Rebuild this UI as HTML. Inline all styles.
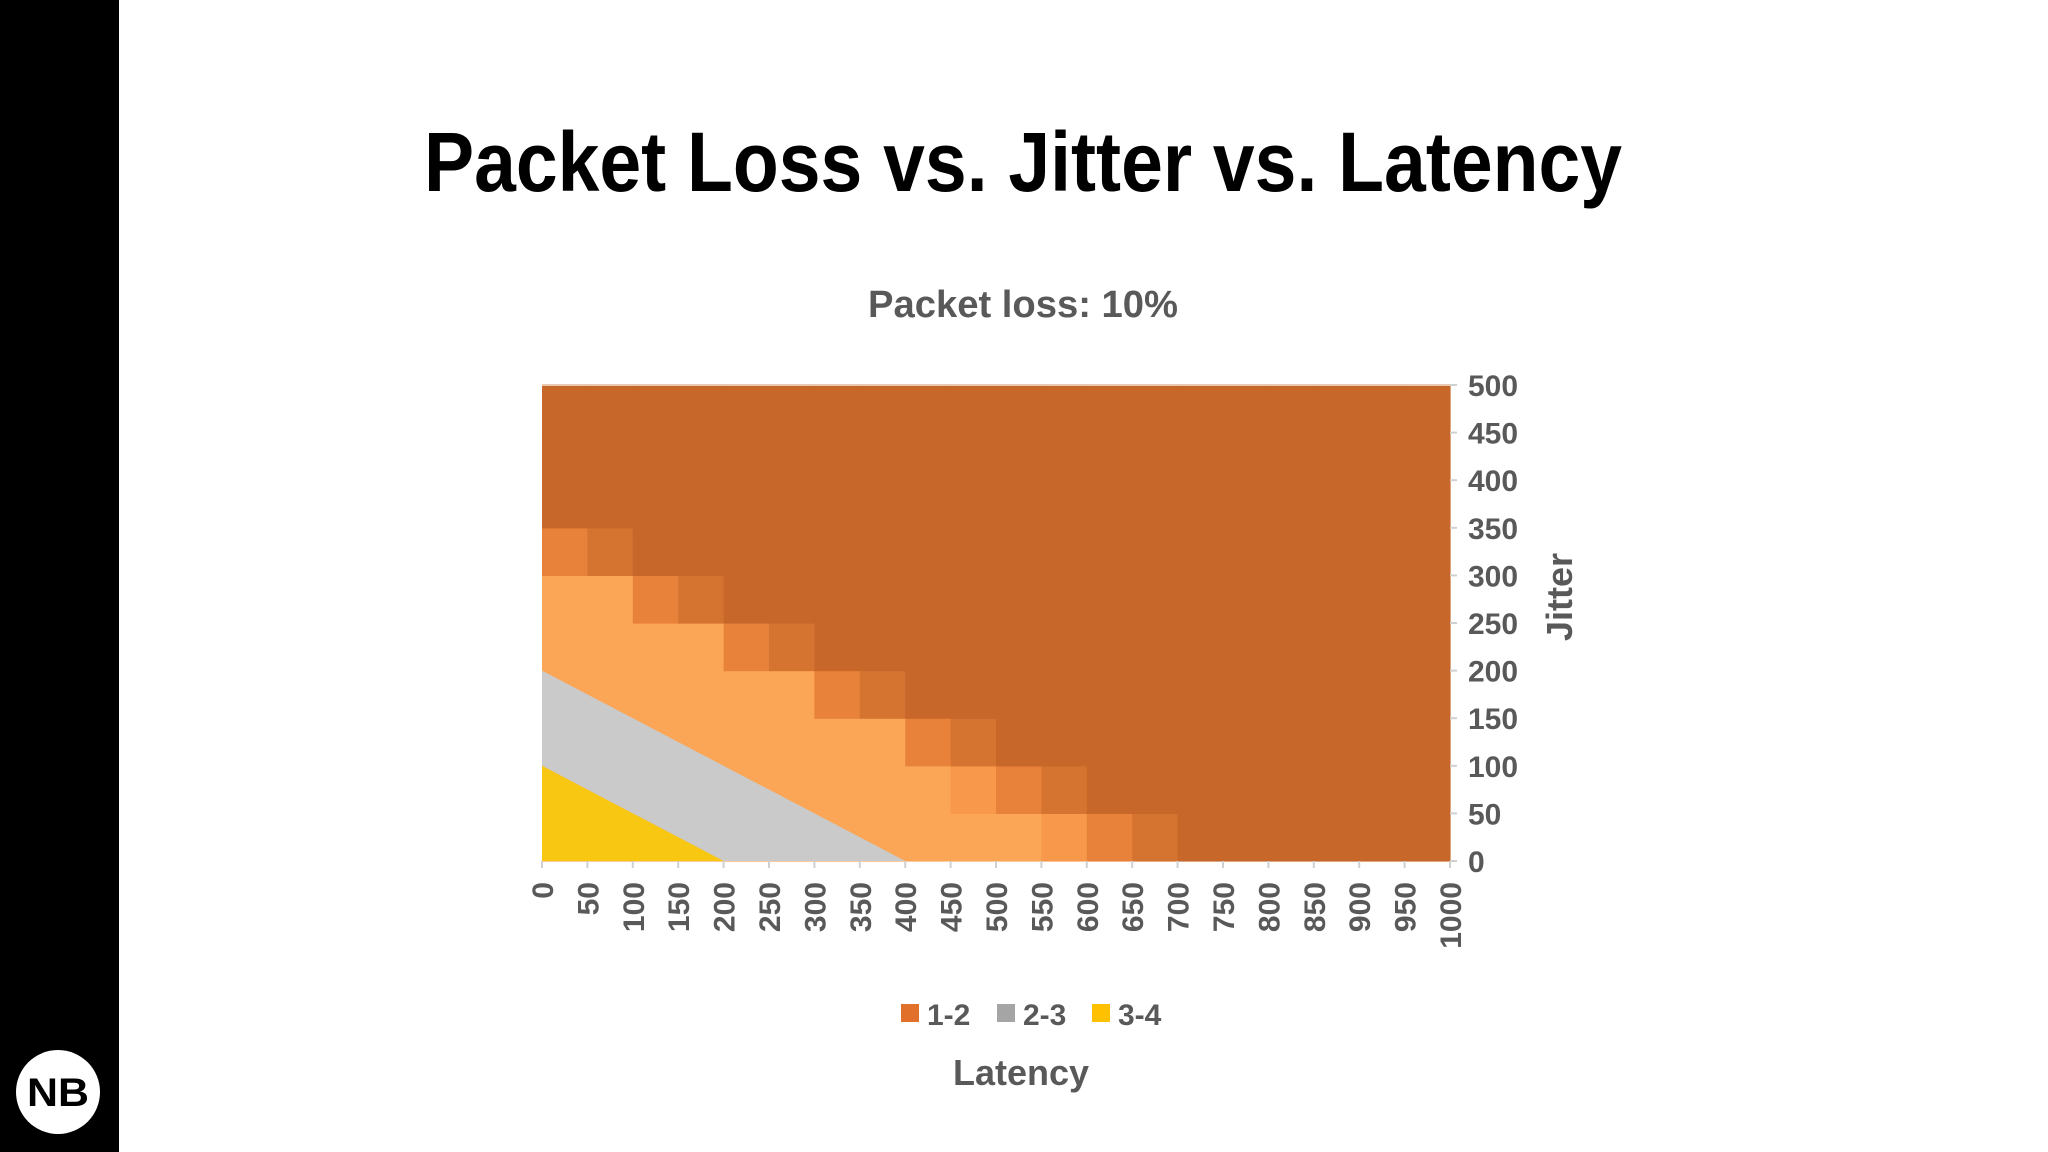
<!DOCTYPE html>
<html><head><meta charset="utf-8"><style>
html,body{margin:0;padding:0;background:#fff;}
svg{display:block;font-family:"Liberation Sans",sans-serif;}
</style></head><body>
<svg id="s" width="2048" height="1152" viewBox="0 0 2048 1152" xmlns="http://www.w3.org/2000/svg">
<rect x="0" y="0" width="119" height="1152" fill="#000"/>
<g>
<circle cx="58" cy="1092" r="42" fill="#fff"/>
<text x="58" y="1106" text-anchor="middle" font-size="40" font-weight="bold" fill="#000" textLength="62" lengthAdjust="spacingAndGlyphs">NB</text>
</g>
<text x="1023" y="191" text-anchor="middle" font-size="84" font-weight="bold" fill="#000" textLength="1198" lengthAdjust="spacingAndGlyphs">Packet Loss vs. Jitter vs. Latency</text>
<text x="1023" y="317" text-anchor="middle" font-size="38" font-weight="bold" fill="#595959" textLength="310" lengthAdjust="spacingAndGlyphs">Packet loss: 10%</text>
<g id="plot"></g>
<g id="axes"></g>
<text transform="translate(1572,597) rotate(-90)" text-anchor="middle" font-size="36" font-weight="bold" fill="#595959">Jitter</text>
<text x="1021" y="1085" text-anchor="middle" font-size="36" font-weight="bold" fill="#595959">Latency</text>
<g>
<g><rect x="901" y="1004" width="18" height="18" fill="#E0702A"/><text x="927" y="1025" font-size="30" font-weight="bold" fill="#595959">1-2</text></g>
<g><rect x="997" y="1004" width="18" height="18" fill="#A5A5A5"/><text x="1023" y="1025" font-size="30" font-weight="bold" fill="#595959">2-3</text></g>
<g><rect x="1092" y="1004" width="18" height="18" fill="#FFC000"/><text x="1118" y="1025" font-size="30" font-weight="bold" fill="#595959">3-4</text></g>
</g>
</svg>
<script>
const latencyTicks=[0,50,100,150,200,250,300,350,400,450,500,550,600,650,700,750,800,850,900,950,1000];
const jitterTicks=[0,50,100,150,200,250,300,350,400,450,500];
// shade level per cell (rows: jitter 0-50 upward; cols: latency 0-50 ...)
const shadeRow0=[4,4,4,4,4,4,4,4,4,4,4,3,2,1,0,0,0,0,0,0];
const shadeRow1=[4,4,4,4,4,4,4,4,4,3,2,1,0,0,0,0,0,0,0,0];
const shadeRow2=[4,4,4,4,4,4,4,4,2,1,0,0,0,0,0,0,0,0,0,0];
const shadeRow3=[4,4,4,4,4,4,2,1,0,0,0,0,0,0,0,0,0,0,0,0];
const shadeRow4=[4,4,4,4,2,1,0,0,0,0,0,0,0,0,0,0,0,0,0,0];
const shadeRow5=[4,4,2,1,0,0,0,0,0,0,0,0,0,0,0,0,0,0,0,0];
const shadeRow6=[2,1,0,0,0,0,0,0,0,0,0,0,0,0,0,0,0,0,0,0];
const shadeRow7=[0,0,0,0,0,0,0,0,0,0,0,0,0,0,0,0,0,0,0,0];
const shadeRow8=[0,0,0,0,0,0,0,0,0,0,0,0,0,0,0,0,0,0,0,0];
const shadeRow9=[0,0,0,0,0,0,0,0,0,0,0,0,0,0,0,0,0,0,0,0];
const grayZoneLatency=[0,0,400,200];
const grayZoneJitter=[100,200,0,0];
const yellowZoneLatency=[0,0,200];
const yellowZoneJitter=[0,100,0];
const shadeColors=["#C8672A","#D57330","#E8823A","#F7984A","#FBA656"];
const NS="http://www.w3.org/2000/svg";
const PL=542,PR=1450,PT=385,PB=861;
const xs=v=>PL+(v-0)/1000*(PR-PL);
const ys=v=>PB-(v-0)/500*(PB-PT);
const plotG=document.getElementById('plot');
const axesG=document.getElementById('axes');
const rows=[shadeRow0,shadeRow1,shadeRow2,shadeRow3,shadeRow4,shadeRow5,shadeRow6,shadeRow7,shadeRow8,shadeRow9];
rows.forEach((row,j)=>{row.forEach((s,i)=>{
 const r=document.createElementNS(NS,'rect');
 const x0=xs(latencyTicks[i]),x1=xs(latencyTicks[i+1]),y0=ys(jitterTicks[j+1]),y1=ys(jitterTicks[j]);
 r.setAttribute('x',x0);r.setAttribute('y',y0);r.setAttribute('width',x1-x0+0.6);r.setAttribute('height',y1-y0+0.6);
 r.setAttribute('fill',shadeColors[s]);
 
 
 plotG.appendChild(r);
});});
function poly(lx,jy,fill,name){
 const p=document.createElementNS(NS,'polygon');
 p.setAttribute('points',lx.map((v,k)=>xs(v)+','+ys(jy[k])).join(' '));
 p.setAttribute('fill',fill);
 
 
 plotG.appendChild(p);
}
poly(grayZoneLatency,grayZoneJitter,'#CACACA','zone-2-3');
poly(yellowZoneLatency,yellowZoneJitter,'#F7C712','zone-3-4');
const topLine=document.createElementNS(NS,'line');
topLine.setAttribute('x1',PL);topLine.setAttribute('x2',PR);topLine.setAttribute('y1',PT);topLine.setAttribute('y2',PT);
topLine.setAttribute('stroke','#E8C8B0');topLine.setAttribute('stroke-width','2');


plotG.appendChild(topLine);
latencyTicks.forEach(v=>{
 const tk=document.createElementNS(NS,'line');
 tk.setAttribute('x1',xs(v));tk.setAttribute('x2',xs(v));tk.setAttribute('y1',PB);tk.setAttribute('y2',PB+7);
 tk.setAttribute('stroke','#D0D0D0');tk.setAttribute('stroke-width','2');
 
 
 axesG.appendChild(tk);
 const t=document.createElementNS(NS,'text');
 t.setAttribute('transform','translate('+(xs(v)+11)+',882) rotate(-90)');
 t.setAttribute('text-anchor','end');t.setAttribute('font-size','30');t.setAttribute('font-weight','bold');t.setAttribute('fill','#595959');
 t.textContent=v;
 
 
 axesG.appendChild(t);
});
jitterTicks.forEach(v=>{
 const tk=document.createElementNS(NS,'line');
 tk.setAttribute('x1',PR);tk.setAttribute('x2',PR+7);tk.setAttribute('y1',ys(v));tk.setAttribute('y2',ys(v));
 tk.setAttribute('stroke','#D0D0D0');tk.setAttribute('stroke-width','2');
 
 
 axesG.appendChild(tk);
 const t=document.createElementNS(NS,'text');
 t.setAttribute('x',1468);t.setAttribute('y',ys(v)+11);
 t.setAttribute('font-size','30');t.setAttribute('font-weight','bold');t.setAttribute('fill','#595959');
 t.textContent=v;
 
 
 axesG.appendChild(t);
});
</script>
</body></html>
